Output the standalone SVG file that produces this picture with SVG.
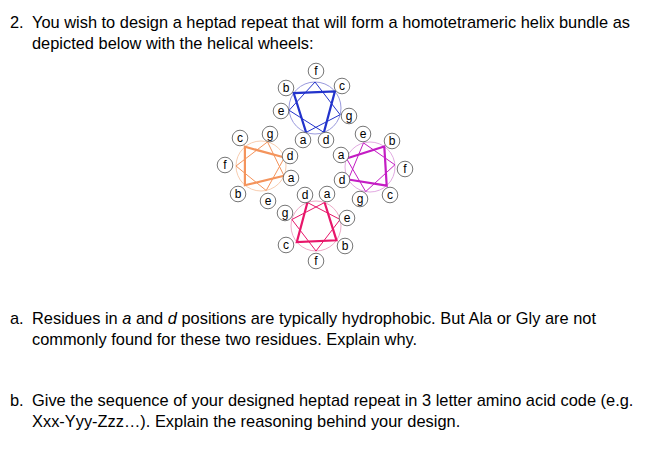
<svg xmlns="http://www.w3.org/2000/svg" width="663" height="461" viewBox="0 0 663 461">
<style>
text{font-family:"Liberation Sans",Arial,sans-serif;fill:#000}
.q{font-size:16.4px}
.lc circle{fill:#fff;stroke:#666;stroke-width:0.9}
.lc text{font-size:12px;text-anchor:middle}
.w{fill:none;stroke-width:1}
.t{stroke-width:2.2;fill:none}
.n{stroke-width:1;fill:none}
</style>
<rect width="663" height="461" fill="#fff"/>
<g id="question">
<text class="q" x="10" y="28">2.</text>
<text class="q" x="32" y="28">You wish to design a heptad repeat that will form a homotetrameric helix bundle as</text>
<text class="q" x="32" y="49">depicted below with the helical wheels:</text>
<text class="q" x="10" y="324">a.</text>
<text class="q" x="32" y="324">Residues in <tspan font-style="italic">a</tspan> and <tspan font-style="italic">d</tspan> positions are typically hydrophobic. But Ala or Gly are not</text>
<text class="q" x="32" y="345">commonly found for these two residues. Explain why.</text>
<text class="q" x="10" y="406">b.</text>
<text class="q" x="32" y="406">Give the sequence of your designed heptad repeat in 3 letter amino acid code (e.g.</text>
<text class="q" x="32" y="427">Xxx-Yyy-Zzz…). Explain the reasoning behind your design.</text>
</g>
<g id="connectors">
<g stroke="#2233cc">
<circle class="w" cx="315" cy="108" r="26" stroke="#9999dd"/>
<polyline class="t" points="306.1,132.4 293.7,93.1 334.9,91.3 323.9,132.4"/>
<polyline class="n" points="323.9,132.4 289.1,110.3 315,82 340.1,114.7 306.1,132.4"/>
</g>
<g stroke="#f4945c">
<circle class="w" cx="261" cy="166" r="25" stroke="#f8cdb0"/>
<polyline class="t" points="284,175.8 244.9,185.2 244.9,146.8 284.5,157.5"/>
<polyline class="n" points="284.5,157.5 266.2,190.5 236,166 267.5,141.9 284,175.8"/>
</g>
<g stroke="#c41cc4">
<circle class="w" cx="370" cy="167" r="25" stroke="#e2aae2"/>
<polyline class="t" points="346.5,158.5 384.3,146.5 386.7,185.6 348.3,179.5"/>
<polyline class="n" points="348.3,179.5 363.5,142.9 394.9,164.8 365.7,191.6 346.5,158.5"/>
</g>
<g stroke="#e8166a">
<circle class="w" cx="316" cy="226" r="25" stroke="#eeaac8"/>
<polyline class="t" points="324.6,202.5 336.5,240.3 296.8,242.1 307.4,202.5"/>
<polyline class="n" points="307.4,202.5 340.1,219.5 316,251 291.9,219.5 324.6,202.5"/>
</g>
</g>
<g id="wheel-blue" class="lc">
<circle cx="303" cy="140" r="7.8"/><text x="303" y="144.2">a</text>
<circle cx="286" cy="88" r="7.8"/><text x="286" y="92.2">b</text>
<circle cx="342" cy="86" r="7.8"/><text x="342" y="90.2">c</text>
<circle cx="326" cy="140" r="7.8"/><text x="326" y="144.2">d</text>
<circle cx="281" cy="111" r="7.8"/><text x="281" y="115.2">e</text>
<circle cx="316" cy="71" r="7.8"/><text x="316" y="75.2">f</text>
<circle cx="349" cy="116" r="7.8"/><text x="349" y="120.2">g</text>
</g>
<g id="wheel-orange" class="lc">
<circle cx="291" cy="178" r="7.8"/><text x="291" y="182.2">a</text>
<circle cx="238" cy="194" r="7.8"/><text x="238" y="198.2">b</text>
<circle cx="240" cy="138" r="7.8"/><text x="240" y="142.2">c</text>
<circle cx="290" cy="156" r="7.8"/><text x="290" y="160.2">d</text>
<circle cx="268" cy="201" r="7.8"/><text x="268" y="205.2">e</text>
<circle cx="225" cy="165" r="7.8"/><text x="225" y="169.2">f</text>
<circle cx="270" cy="134" r="7.8"/><text x="270" y="138.2">g</text>
</g>
<g id="wheel-magenta" class="lc">
<circle cx="341" cy="155" r="7.8"/><text x="341" y="159.2">a</text>
<circle cx="392" cy="141" r="7.8"/><text x="392" y="145.2">b</text>
<circle cx="390" cy="195" r="7.8"/><text x="390" y="199.2">c</text>
<circle cx="342" cy="180" r="7.8"/><text x="342" y="184.2">d</text>
<circle cx="363" cy="134" r="7.8"/><text x="363" y="138.2">e</text>
<circle cx="405" cy="169" r="7.8"/><text x="405" y="173.2">f</text>
<circle cx="360" cy="199" r="7.8"/><text x="360" y="203.2">g</text>
</g>
<g id="wheel-pink" class="lc">
<circle cx="327" cy="194" r="7.8"/><text x="327" y="198.2">a</text>
<circle cx="345" cy="246" r="7.8"/><text x="345" y="250.2">b</text>
<circle cx="286" cy="245" r="7.8"/><text x="286" y="249.2">c</text>
<circle cx="305" cy="195" r="7.8"/><text x="305" y="199.2">d</text>
<circle cx="347" cy="218" r="7.8"/><text x="347" y="222.2">e</text>
<circle cx="316" cy="261" r="7.8"/><text x="316" y="265.2">f</text>
<circle cx="285" cy="213" r="7.8"/><text x="285" y="217.2">g</text>
</g>
</svg>
